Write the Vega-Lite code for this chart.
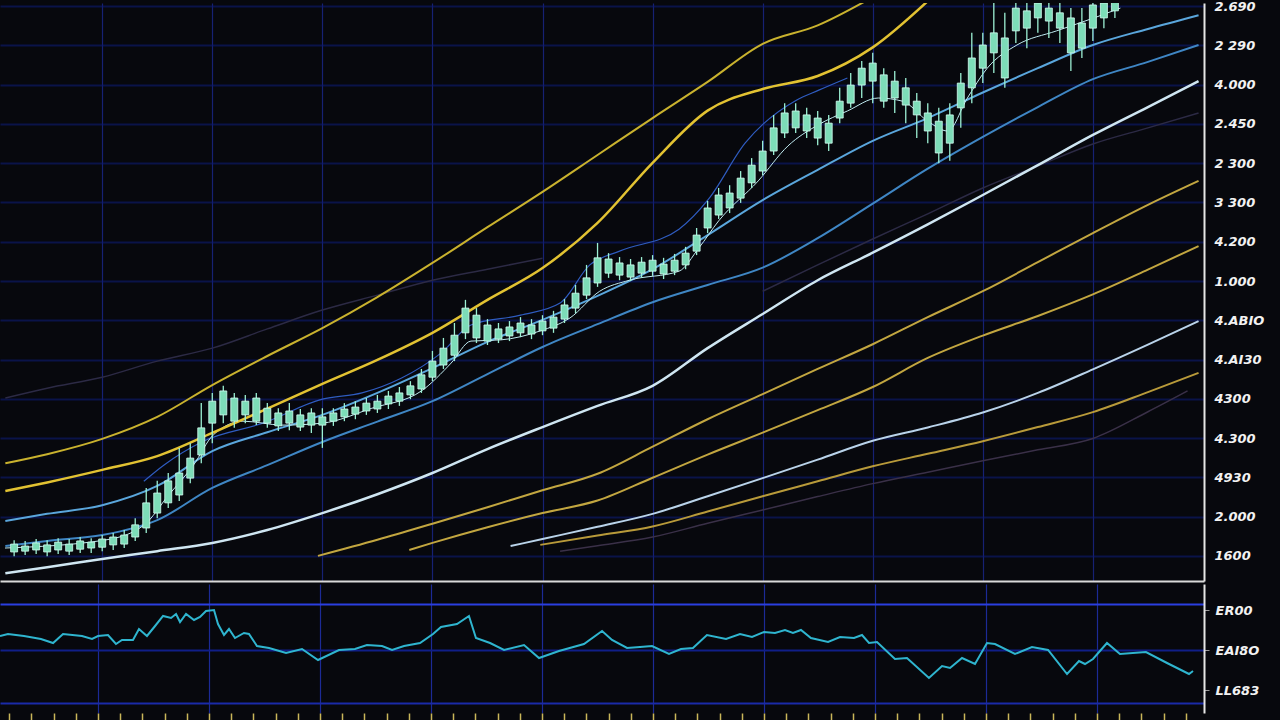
{
  "$schema": "https://vega.github.io/schema/vega-lite/v6.json",
  "background": "#07080d",
  "padding": {"left": 0, "top": 0, "right": 24, "bottom": 0},
  "spacing": 3,
  "config": {
    "view": {"stroke": null},
    "axis": {"minExtent": 0, "labelFont": "DejaVu Sans", "labelColor": "#f2f2f2", "labelFontSize": 13, "labelFontStyle": "italic", "labelFontWeight": "bold"}
  },
  "datasets": {
    "lines": [
      {"s":"F1","t":-8.8,"p":2002},{"s":"F1","t":-5,"p":2027},{"s":"F1","t":0,"p":2055},{"s":"F1","t":5,"p":2096},{"s":"F1","t":10,"p":2129},{"s":"F1","t":15,"p":2178},{"s":"F1","t":20,"p":2226},{"s":"F1","t":25,"p":2264},{"s":"F1","t":30,"p":2302},{"s":"F1","t":35,"p":2330},{"s":"F1","t":40,"p":2358},
      {"s":"F2","t":60,"p":2274},{"s":"F2","t":65,"p":2341},{"s":"F2","t":70,"p":2407},{"s":"F2","t":75,"p":2471},{"s":"F2","t":80,"p":2537},{"s":"F2","t":85,"p":2593},{"s":"F2","t":90,"p":2649},{"s":"F2","t":95,"p":2690},{"s":"F2","t":99.6,"p":2728},
      {"s":"LI","t":41.6,"p":1612},{"s":"LI","t":45,"p":1626},{"s":"LI","t":50,"p":1648},{"s":"LI","t":55,"p":1683},{"s":"LI","t":60,"p":1717},{"s":"LI","t":65,"p":1751},{"s":"LI","t":70,"p":1784},{"s":"LI","t":75,"p":1813},{"s":"LI","t":80,"p":1842},{"s":"LI","t":85,"p":1870},{"s":"LI","t":90,"p":1899},{"s":"LI","t":95,"p":1967},{"s":"LI","t":98.6,"p":2020},
      {"s":"LH","t":39.8,"p":1628},{"s":"LH","t":45,"p":1652},{"s":"LH","t":50,"p":1675},{"s":"LH","t":55,"p":1713},{"s":"LH","t":60,"p":1752},{"s":"LH","t":65,"p":1790},{"s":"LH","t":70,"p":1828},{"s":"LH","t":75,"p":1860},{"s":"LH","t":80,"p":1892},{"s":"LH","t":85,"p":1928},{"s":"LH","t":90,"p":1966},{"s":"LH","t":95,"p":2017},{"s":"LH","t":99.6,"p":2066},
      {"s":"LG","t":37.1,"p":1625},{"s":"LG","t":40,"p":1643},{"s":"LG","t":45,"p":1674},{"s":"LG","t":50,"p":1707},{"s":"LG","t":55,"p":1752},{"s":"LG","t":60,"p":1798},{"s":"LG","t":65,"p":1845},{"s":"LG","t":70,"p":1893},{"s":"LG","t":75,"p":1927},{"s":"LG","t":80,"p":1965},{"s":"LG","t":85,"p":2015},{"s":"LG","t":90,"p":2075},{"s":"LG","t":95,"p":2138},{"s":"LG","t":99.6,"p":2198},
      {"s":"LF","t":27.9,"p":1615},{"s":"LF","t":30,"p":1633},{"s":"LF","t":35,"p":1673},{"s":"LF","t":40,"p":1709},{"s":"LF","t":45,"p":1741},{"s":"LF","t":50,"p":1799},{"s":"LF","t":55,"p":1858},{"s":"LF","t":60,"p":1914},{"s":"LF","t":65,"p":1971},{"s":"LF","t":70,"p":2030},{"s":"LF","t":75,"p":2104},{"s":"LF","t":80,"p":2161},{"s":"LF","t":85,"p":2211},{"s":"LF","t":90,"p":2266},{"s":"LF","t":95,"p":2329},{"s":"LF","t":99.6,"p":2389},
      {"s":"LE","t":19.6,"p":1600},{"s":"LE","t":25,"p":1641},{"s":"LE","t":30,"p":1682},{"s":"LE","t":35,"p":1724},{"s":"LE","t":40,"p":1767},{"s":"LE","t":45,"p":1809},{"s":"LE","t":50,"p":1878},{"s":"LE","t":55,"p":1948},{"s":"LE","t":60,"p":2012},{"s":"LE","t":65,"p":2076},{"s":"LE","t":70,"p":2139},{"s":"LE","t":75,"p":2208},{"s":"LE","t":80,"p":2274},{"s":"LE","t":85,"p":2348},{"s":"LE","t":90,"p":2422},{"s":"LE","t":95,"p":2494},{"s":"LE","t":99.6,"p":2555},
      {"s":"LC","t":-8.8,"p":1556},{"s":"LC","t":-5,"p":1571},{"s":"LC","t":0,"p":1592},{"s":"LC","t":5,"p":1612},{"s":"LC","t":10,"p":1633},{"s":"LC","t":15,"p":1666},{"s":"LC","t":20,"p":1709},{"s":"LC","t":25,"p":1757},{"s":"LC","t":30,"p":1811},{"s":"LC","t":35,"p":1872},{"s":"LC","t":40,"p":1928},{"s":"LC","t":45,"p":1982},{"s":"LC","t":50,"p":2033},{"s":"LC","t":55,"p":2129},{"s":"LC","t":60,"p":2216},{"s":"LC","t":65,"p":2302},{"s":"LC","t":70,"p":2372},{"s":"LC","t":75,"p":2444},{"s":"LC","t":80,"p":2519},{"s":"LC","t":85,"p":2595},{"s":"LC","t":90,"p":2672},{"s":"LC","t":95,"p":2743},{"s":"LC","t":99.6,"p":2809},
      {"s":"LB","t":-8.8,"p":1625},{"s":"LB","t":-5,"p":1638},{"s":"LB","t":0,"p":1653},{"s":"LB","t":5,"p":1691},{"s":"LB","t":10,"p":1773},{"s":"LB","t":15,"p":1831},{"s":"LB","t":20,"p":1890},{"s":"LB","t":25,"p":1942},{"s":"LB","t":30,"p":1994},{"s":"LB","t":35,"p":2063},{"s":"LB","t":40,"p":2132},{"s":"LB","t":45,"p":2190},{"s":"LB","t":50,"p":2246},{"s":"LB","t":55,"p":2290},{"s":"LB","t":60,"p":2334},{"s":"LB","t":65,"p":2409},{"s":"LB","t":70,"p":2497},{"s":"LB","t":75,"p":2586},{"s":"LB","t":80,"p":2667},{"s":"LB","t":85,"p":2743},{"s":"LB","t":90,"p":2814},{"s":"LB","t":95,"p":2858},{"s":"LB","t":99.6,"p":2901},
      {"s":"LA","t":-8.8,"p":1689},{"s":"LA","t":-5,"p":1707},{"s":"LA","t":0,"p":1729},{"s":"LA","t":5,"p":1778},{"s":"LA","t":10,"p":1867},{"s":"LA","t":15,"p":1915},{"s":"LA","t":20,"p":1959},{"s":"LA","t":25,"p":2015},{"s":"LA","t":30,"p":2078},{"s":"LA","t":35,"p":2145},{"s":"LA","t":40,"p":2201},{"s":"LA","t":45,"p":2262},{"s":"LA","t":50,"p":2330},{"s":"LA","t":55,"p":2417},{"s":"LA","t":60,"p":2506},{"s":"LA","t":65,"p":2583},{"s":"LA","t":70,"p":2657},{"s":"LA","t":75,"p":2715},{"s":"LA","t":80,"p":2780},{"s":"LA","t":85,"p":2842},{"s":"LA","t":90,"p":2901},{"s":"LA","t":95,"p":2942},{"s":"LA","t":99.6,"p":2977},
      {"s":"UB","t":3.78,"p":1790},{"s":"UB","t":5.59,"p":1831},{"s":"UB","t":9.19,"p":1892},{"s":"UB","t":14.6,"p":1938},{"s":"UB","t":20,"p":1999},{"s":"UB","t":23.6,"p":2015},{"s":"UB","t":27.2,"p":2053},{"s":"UB","t":30.8,"p":2117},{"s":"UB","t":33.5,"p":2188},{"s":"UB","t":38,"p":2213},{"s":"UB","t":41.6,"p":2244},{"s":"UB","t":44.3,"p":2341},{"s":"UB","t":47,"p":2376},{"s":"UB","t":52.4,"p":2432},{"s":"UB","t":55.1,"p":2509},{"s":"UB","t":58.4,"p":2651},{"s":"UB","t":63.1,"p":2761},{"s":"UB","t":65.1,"p":2786},{"s":"UB","t":67.7,"p":2817},
      {"s":"MA5","t":-8.83,"p":1620},{"s":"MA5","t":0.18,"p":1640},{"s":"MA5","t":3.78,"p":1678},{"s":"MA5","t":6.04,"p":1755},{"s":"MA5","t":8.29,"p":1831},{"s":"MA5","t":10.09,"p":1908},{"s":"MA5","t":12.79,"p":1943},{"s":"MA5","t":16.4,"p":1933},{"s":"MA5","t":20,"p":1938},{"s":"MA5","t":24.5,"p":1976},{"s":"MA5","t":29,"p":2020},{"s":"MA5","t":31.7,"p":2091},{"s":"MA5","t":33.5,"p":2147},{"s":"MA5","t":36.2,"p":2150},{"s":"MA5","t":39.8,"p":2173},{"s":"MA5","t":42.5,"p":2206},{"s":"MA5","t":45.2,"p":2274},{"s":"MA5","t":47.9,"p":2302},{"s":"MA5","t":52.4,"p":2325},{"s":"MA5","t":54.2,"p":2384},{"s":"MA5","t":56,"p":2453},{"s":"MA5","t":59.6,"p":2555},{"s":"MA5","t":62.3,"p":2644},{"s":"MA5","t":65,"p":2697},{"s":"MA5","t":67.7,"p":2733},{"s":"MA5","t":70.5,"p":2766},{"s":"MA5","t":72.7,"p":2758},{"s":"MA5","t":75,"p":2707},{"s":"MA5","t":76.8,"p":2682},{"s":"MA5","t":78.6,"p":2766},{"s":"MA5","t":80.4,"p":2842},{"s":"MA5","t":83.1,"p":2901},{"s":"MA5","t":86.7,"p":2937},{"s":"MA5","t":90.3,"p":2972},{"s":"MA5","t":92.5,"p":2995},
      {"s":"LY","t":-8.8,"p":1765},{"s":"LY","t":-5,"p":1787},{"s":"LY","t":0,"p":1819},{"s":"LY","t":5,"p":1854},{"s":"LY","t":10,"p":1913},{"s":"LY","t":15,"p":1975},{"s":"LY","t":20,"p":2038},{"s":"LY","t":25,"p":2099},{"s":"LY","t":30,"p":2168},{"s":"LY","t":35,"p":2252},{"s":"LY","t":40,"p":2333},{"s":"LY","t":45,"p":2448},{"s":"LY","t":50,"p":2601},{"s":"LY","t":55,"p":2734},{"s":"LY","t":60,"p":2789},{"s":"LY","t":65,"p":2822},{"s":"LY","t":70,"p":2895},{"s":"LY","t":75,"p":3013},
      {"s":"UY","t":-8.8,"p":1836},{"s":"UY","t":-5,"p":1859},{"s":"UY","t":0,"p":1898},{"s":"UY","t":5,"p":1954},{"s":"UY","t":10,"p":2035},{"s":"UY","t":15,"p":2109},{"s":"UY","t":20,"p":2180},{"s":"UY","t":25,"p":2259},{"s":"UY","t":30,"p":2346},{"s":"UY","t":35,"p":2437},{"s":"UY","t":40,"p":2527},{"s":"UY","t":45,"p":2621},{"s":"UY","t":50,"p":2715},{"s":"UY","t":55,"p":2807},{"s":"UY","t":60,"p":2904},{"s":"UY","t":65,"p":2951},{"s":"UY","t":70,"p":3023}
    ],
    "candles": [
      {"t":-8,"hi":1630,"lo":1610,"h":1640,"l":1599},{"t":-7,"hi":1625,"lo":1612,"h":1638,"l":1602},{"t":-6,"hi":1633,"lo":1615,"h":1643,"l":1605},{"t":-5,"hi":1628,"lo":1610,"h":1640,"l":1599},{"t":-4,"hi":1635,"lo":1615,"h":1645,"l":1605},{"t":-3,"hi":1630,"lo":1612,"h":1643,"l":1602},{"t":-2,"hi":1638,"lo":1617,"h":1648,"l":1607},{"t":-1,"hi":1635,"lo":1620,"h":1645,"l":1607},
      {"t":0,"hi":1643,"lo":1622,"h":1653,"l":1612},{"t":1,"hi":1648,"lo":1628,"h":1658,"l":1615},{"t":2,"hi":1653,"lo":1630,"h":1666,"l":1620},{"t":3,"hi":1679,"lo":1648,"h":1696,"l":1638},{"t":4,"hi":1735,"lo":1671,"h":1773,"l":1658},{"t":5,"hi":1760,"lo":1709,"h":1791,"l":1696},{"t":6,"hi":1791,"lo":1735,"h":1811,"l":1722},{"t":7,"hi":1811,"lo":1755,"h":1875,"l":1740},{"t":8,"hi":1849,"lo":1798,"h":1887,"l":1785},{"t":9,"hi":1926,"lo":1857,"h":1989,"l":1836},
      {"t":10,"hi":1994,"lo":1938,"h":2015,"l":1887},{"t":11,"hi":2020,"lo":1959,"h":2033,"l":1938},{"t":12,"hi":2002,"lo":1943,"h":2015,"l":1926},{"t":13,"hi":1994,"lo":1959,"h":2010,"l":1938},{"t":14,"hi":2002,"lo":1943,"h":2015,"l":1933},{"t":15,"hi":1976,"lo":1938,"h":1989,"l":1926},{"t":16,"hi":1964,"lo":1931,"h":1976,"l":1918},{"t":17,"hi":1969,"lo":1938,"h":1989,"l":1920},{"t":18,"hi":1959,"lo":1928,"h":1974,"l":1918},{"t":19,"hi":1964,"lo":1933,"h":1976,"l":1913},
      {"t":20,"hi":1954,"lo":1933,"h":1976,"l":1875},{"t":21,"hi":1964,"lo":1943,"h":1976,"l":1931},{"t":22,"hi":1974,"lo":1954,"h":1989,"l":1943},{"t":23,"hi":1979,"lo":1961,"h":1994,"l":1948},{"t":24,"hi":1989,"lo":1969,"h":2002,"l":1959},{"t":25,"hi":1994,"lo":1974,"h":2010,"l":1964},{"t":26,"hi":2007,"lo":1987,"h":2020,"l":1974},{"t":27,"hi":2015,"lo":1994,"h":2030,"l":1982},{"t":28,"hi":2033,"lo":2010,"h":2045,"l":1999},{"t":29,"hi":2061,"lo":2025,"h":2076,"l":2015},
      {"t":30,"hi":2096,"lo":2055,"h":2122,"l":2045},{"t":31,"hi":2129,"lo":2086,"h":2155,"l":2076},{"t":32,"hi":2162,"lo":2111,"h":2193,"l":2096},{"t":33,"hi":2231,"lo":2168,"h":2252,"l":2152},{"t":34,"hi":2213,"lo":2155,"h":2231,"l":2142},{"t":35,"hi":2188,"lo":2147,"h":2203,"l":2137},{"t":36,"hi":2178,"lo":2152,"h":2193,"l":2142},{"t":37,"hi":2183,"lo":2160,"h":2198,"l":2147},{"t":38,"hi":2193,"lo":2168,"h":2208,"l":2157},{"t":39,"hi":2188,"lo":2165,"h":2203,"l":2152},
      {"t":40,"hi":2198,"lo":2173,"h":2213,"l":2162},{"t":41,"hi":2208,"lo":2180,"h":2224,"l":2168},{"t":42,"hi":2239,"lo":2203,"h":2254,"l":2193},{"t":43,"hi":2269,"lo":2231,"h":2290,"l":2218},{"t":44,"hi":2308,"lo":2264,"h":2341,"l":2254},{"t":45,"hi":2359,"lo":2295,"h":2397,"l":2285},{"t":46,"hi":2356,"lo":2320,"h":2371,"l":2308},{"t":47,"hi":2346,"lo":2315,"h":2361,"l":2302},{"t":48,"hi":2341,"lo":2310,"h":2356,"l":2300},{"t":49,"hi":2348,"lo":2320,"h":2361,"l":2308},
      {"t":50,"hi":2353,"lo":2325,"h":2366,"l":2313},{"t":51,"hi":2343,"lo":2318,"h":2359,"l":2305},{"t":52,"hi":2353,"lo":2325,"h":2369,"l":2315},{"t":53,"hi":2371,"lo":2341,"h":2387,"l":2330},{"t":54,"hi":2417,"lo":2376,"h":2435,"l":2366},{"t":55,"hi":2486,"lo":2435,"h":2504,"l":2422},{"t":56,"hi":2519,"lo":2468,"h":2537,"l":2458},{"t":57,"hi":2524,"lo":2486,"h":2544,"l":2473},{"t":58,"hi":2562,"lo":2511,"h":2580,"l":2499},{"t":59,"hi":2595,"lo":2550,"h":2613,"l":2537},
      {"t":60,"hi":2631,"lo":2580,"h":2657,"l":2570},{"t":61,"hi":2690,"lo":2631,"h":2723,"l":2621},{"t":62,"hi":2728,"lo":2677,"h":2753,"l":2664},{"t":63,"hi":2733,"lo":2690,"h":2753,"l":2677},{"t":64,"hi":2723,"lo":2682,"h":2741,"l":2664},{"t":65,"hi":2715,"lo":2664,"h":2733,"l":2646},{"t":66,"hi":2702,"lo":2651,"h":2723,"l":2631},{"t":67,"hi":2758,"lo":2715,"h":2792,"l":2702},{"t":68,"hi":2799,"lo":2753,"h":2830,"l":2741},{"t":69,"hi":2842,"lo":2799,"h":2860,"l":2766},
      {"t":70,"hi":2855,"lo":2809,"h":2881,"l":2753},{"t":71,"hi":2825,"lo":2758,"h":2842,"l":2741},{"t":72,"hi":2809,"lo":2766,"h":2835,"l":2728},{"t":73,"hi":2792,"lo":2748,"h":2817,"l":2702},{"t":74,"hi":2758,"lo":2723,"h":2779,"l":2664},{"t":75,"hi":2728,"lo":2682,"h":2753,"l":2651},{"t":76,"hi":2707,"lo":2626,"h":2741,"l":2600},{"t":77,"hi":2723,"lo":2651,"h":2753,"l":2606},{"t":78,"hi":2804,"lo":2741,"h":2830,"l":2690},{"t":79,"hi":2868,"lo":2792,"h":2932,"l":2753},
      {"t":80,"hi":2901,"lo":2842,"h":2932,"l":2804},{"t":81,"hi":2932,"lo":2881,"h":3008,"l":2830},{"t":82,"hi":2919,"lo":2817,"h":2983,"l":2792},{"t":83,"hi":2995,"lo":2937,"h":3033,"l":2906},{"t":84,"hi":2988,"lo":2944,"h":3021,"l":2893},{"t":85,"hi":3008,"lo":2970,"h":3033,"l":2932},{"t":86,"hi":2995,"lo":2962,"h":3021,"l":2919},{"t":87,"hi":2983,"lo":2944,"h":3021,"l":2906},{"t":88,"hi":2970,"lo":2881,"h":2995,"l":2835},{"t":89,"hi":2957,"lo":2893,"h":2995,"l":2868},
      {"t":90,"hi":3003,"lo":2944,"h":3033,"l":2911},{"t":91,"hi":3008,"lo":2970,"h":3033,"l":2944},{"t":92,"hi":3021,"lo":2988,"h":3046,"l":2970}
    ],
    "osc": [
      {"t":-8.83,"v":67.5},{"t":-8.11,"v":70},{"t":-6.67,"v":67.5},{"t":-5.14,"v":63.75},{"t":-4.05,"v":58.75},{"t":-3.15,"v":70},{"t":-1.44,"v":67.5},{"t":-0.54,"v":63.75},{"t":0,"v":67.5},{"t":0.9,"v":68.75},{"t":1.62,"v":57.5},{"t":2.16,"v":62.5},{"t":3.15,"v":62.5},{"t":3.69,"v":76.25},{"t":4.41,"v":67.5},{"t":5.14,"v":80},{"t":5.86,"v":92.5},{"t":6.58,"v":90},{"t":7.03,"v":95},{"t":7.39,"v":85},{"t":7.93,"v":95},{"t":8.65,"v":87.5},{"t":9.19,"v":91.25},{"t":9.73,"v":98.75},{"t":10.45,"v":100},{"t":10.81,"v":82.5},{"t":11.35,"v":68.75},{"t":11.8,"v":76.25},{"t":12.34,"v":65},{"t":13.15,"v":71.25},{"t":13.6,"v":70},{"t":14.32,"v":55},{"t":15.41,"v":52.5},{"t":16.94,"v":46.25},{"t":18.38,"v":51.25},{"t":19.82,"v":37.5},{"t":21.71,"v":50},{"t":23.15,"v":51.25},{"t":24.23,"v":56.25},{"t":25.59,"v":55},{"t":26.49,"v":50},{"t":27.57,"v":55},{"t":29.01,"v":58.75},{"t":30.18,"v":70},{"t":30.9,"v":78.75},{"t":32.34,"v":82.5},{"t":33.42,"v":92.5},{"t":34.05,"v":65},{"t":35.32,"v":58.75},{"t":36.58,"v":50},{"t":38.38,"v":56.25},{"t":39.73,"v":40},{"t":41.53,"v":48.75},{"t":43.78,"v":57.5},{"t":45.41,"v":73.75},{"t":46.31,"v":62.5},{"t":47.66,"v":52.5},{"t":48.83,"v":53.75},{"t":49.91,"v":55},{"t":51.44,"v":45},{"t":52.52,"v":51.25},{"t":53.6,"v":52.5},{"t":54.86,"v":68.75},{"t":56.58,"v":63.75},{"t":57.84,"v":70},{"t":58.92,"v":66.25},{"t":60,"v":72.5},{"t":60.99,"v":71.25},{"t":61.89,"v":75},{"t":62.61,"v":71.25},{"t":63.33,"v":75},{"t":64.23,"v":65},{"t":65.77,"v":60},{"t":66.85,"v":66.25},{"t":68.11,"v":65},{"t":68.83,"v":68.75},{"t":69.46,"v":58.75},{"t":70.18,"v":60},{"t":71.8,"v":38.75},{"t":72.88,"v":40},{"t":74.86,"v":15},{"t":76.04,"v":30},{"t":76.76,"v":27.5},{"t":77.84,"v":40},{"t":79.01,"v":32.5},{"t":80.09,"v":58.75},{"t":80.81,"v":57.5},{"t":82.61,"v":45},{"t":84.14,"v":53.75},{"t":85.59,"v":50},{"t":87.3,"v":20},{"t":88.38,"v":36.25},{"t":88.92,"v":32.5},{"t":89.64,"v":38.75},{"t":90.9,"v":58.75},{"t":92.07,"v":45},{"t":94.41,"v":47.5},{"t":96.31,"v":33.75},{"t":98.29,"v":20},{"t":98.65,"v":23.75}
    ]
  },
  "vconcat": [
    {
      "width": 1204,
      "height": 578,
      "layer": [
        {
          "data": {"name": "lines"},
          "mark": {"type": "line", "interpolate": "monotone", "clip": true},
          "encoding": {
            "x": {"field": "t", "type": "quantitative", "title": null,
                  "scale": {"domain": [-8.83, 99.64], "nice": false, "zero": false},
                  "axis": {"orient": "bottom", "values": [0,10,20,30,40,50,60,70,80,90], "grid": true, "gridColor": "#1c2a96", "gridWidth": 1.2, "gridOpacity": 0.75, "ticks": false, "labels": false, "domain": true, "domainColor": "#d9d9d9", "domainWidth": 2, "title": null}},
            "y": {"field": "p", "type": "quantitative", "title": null,
                  "scale": {"domain": [1536, 3008], "nice": false, "zero": false},
                  "axis": {"orient": "right", "values": [1600,1700,1800,1900,2000,2100,2200,2300,2400,2500,2600,2700,2800,2900,3000], "grid": true, "gridColor": "#0e1b72", "gridWidth": 2, "gridOpacity": 0.6, "ticks": false, "domain": true, "domainColor": "#e6e6e6", "domainWidth": 2, "labelPadding": 10, "labelFlush": true, "title": null,
                           "labelExpr": "['1600','2.000','4930','4.300','4300','4.AI30','4.ABIO','1.000','4.200','3 300','2 300','2.450','4.000','2 290','2.690'][round((datum.value-1600)/100)]"}},
            "color": {"field": "s", "type": "nominal", "legend": null,
                      "scale": {"domain": ["F1","F2","LI","LH","LG","LF","LE","LC","LB","LA","UB","MA5","LY","UY"],
                                "range": ["#2c2a45","#2c2a45","#3a3048","#b89a3a","#b9d3ea","#c2a640","#c2a640","#cfe6f2","#3f86c4","#5aa6dc","#2f5cc0","#bfeaf0","#e2c232","#c9b22e"]}},
            "strokeWidth": {"field": "s", "type": "nominal", "legend": null,
                      "scale": {"type": "ordinal", "domain": ["F1","F2","LI","LH","LG","LF","LE","LC","LB","LA","UB","MA5","LY","UY"],
                                "range": [1.5,1.5,1.5,2,2,2,2,2.5,2,2,1.2,1,2.5,2]}}
          }
        },
        {
          "data": {"name": "candles"},
          "mark": {"type": "rule", "color": "#9cf0d4", "strokeWidth": 1.3, "clip": true},
          "encoding": {
            "x": {"field": "t", "type": "quantitative", "title": null},
            "y": {"field": "l", "type": "quantitative", "title": null},
            "y2": {"field": "h"}
          }
        },
        {
          "data": {"name": "candles"},
          "mark": {"type": "bar", "width": 7, "color": "#7ddcb8", "stroke": "#d4fff2", "strokeWidth": 0.8, "clip": true},
          "encoding": {
            "x": {"field": "t", "type": "quantitative", "title": null},
            "y": {"field": "lo", "type": "quantitative", "title": null},
            "y2": {"field": "hi"}
          }
        }
      ]
    },
    {
      "width": 1204,
      "height": 129,
      "data": {"name": "osc"},
      "mark": {"type": "line", "color": "#2fb5cf", "strokeWidth": 2, "clip": true},
      "encoding": {
        "x": {"field": "t", "type": "quantitative", "title": null,
              "scale": {"domain": [-8.83, 99.64], "nice": false, "zero": false},
              "axis": {"orient": "bottom", "values": [-8,-6,-4,-2,0,2,4,6,8,10,12,14,16,18,20,22,24,26,28,30,32,34,36,38,40,42,44,46,48,50,52,54,56,58,60,62,64,66,68,70,72,74,76,78,80,82,84,86,88,90,92,94,96,98],
                       "grid": true, "gridWidth": 1.2,
                       "gridColor": {"condition": {"test": "datum.value % 10 === 0", "value": "#1c2a96"}, "value": "rgba(0,0,0,0)"},
                       "ticks": true, "tickColor": "#c9b65a", "tickSize": 7, "tickWidth": 1.5, "labels": false, "domain": false, "title": null}},
        "y": {"field": "v", "type": "quantitative", "title": null,
              "scale": {"domain": [-28.75, 132.5], "nice": false, "zero": false},
              "axis": {"orient": "right", "values": [107.5, 100, 50, 0, -16.25], "grid": true, "gridWidth": 2,
                       "gridColor": {"condition": [{"test": "datum.value === 107.5", "value": "#2a3ee0"}, {"test": "datum.value === 50", "value": "#101e88"}, {"test": "datum.value === -16.25", "value": "#1a2aa8"}], "value": "rgba(0,0,0,0)"},
                       "ticks": true, "tickSize": 5,
                       "tickColor": {"condition": {"test": "datum.value === 107.5 || datum.value === -16.25", "value": "rgba(0,0,0,0)"}, "value": "#9a9a9a"},
                       "domain": true, "domainColor": "#e6e6e6", "domainWidth": 2, "labelPadding": 6, "title": null,
                       "labelExpr": "datum.value === 100 ? 'ER00' : datum.value === 50 ? 'EAI8O' : datum.value === 0 ? 'LL683' : ''"}}
      }
    }
  ]
}
